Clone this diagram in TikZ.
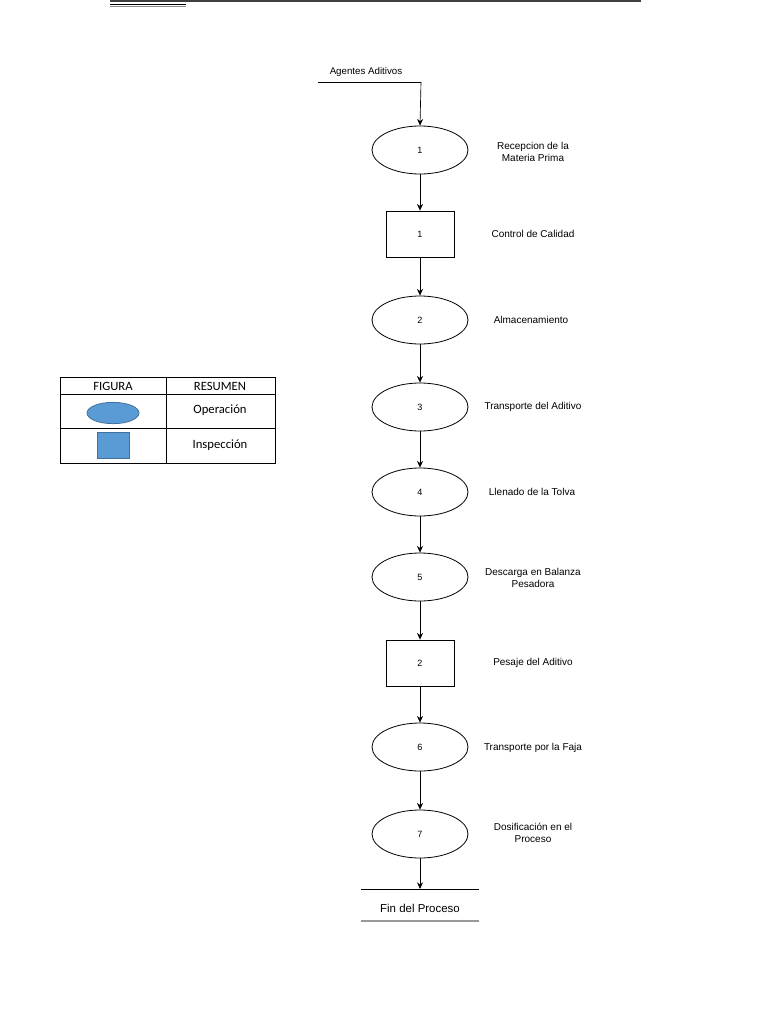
\documentclass[tikz,border=0pt]{standalone}
\usepackage{fontspec}
\setmainfont{Liberation Sans}
\newfontfamily\tabfont{Carlito}
\usetikzlibrary{shapes.geometric,arrows.meta}
\definecolor{legblue}{HTML}{5B9BD5}
\definecolor{legedge}{HTML}{41719C}
\begin{document}
\begin{tikzpicture}[x=0.75pt,y=-0.75pt,
  op/.style={ellipse,draw,line width=0.6pt,minimum width=72pt,minimum height=36pt,inner sep=0pt,font=\fontsize{6.8}{7}\selectfont},
  insp/.style={rectangle,draw,line width=0.6pt,minimum width=51pt,minimum height=34.5pt,inner sep=0pt,font=\fontsize{6.8}{7}\selectfont},
  lbl/.style={align=center,font=\fontsize{7.5}{9}\selectfont,inner sep=0pt},
  flow/.style={draw,line width=0.5pt,-{Stealth[length=5pt,width=4.5pt]}},
  tabline/.style={line width=0.75pt},
  tabtxt/.style={font=\tabfont\fontsize{9.5}{11}\selectfont,inner sep=0pt}]
\useasboundingbox (0,0) rectangle (768,1024);
\fill[white] (0,0) rectangle (768,1024);
% top artefact lines
\draw[line width=0.8pt,black!75] (110,1) -- (641,1);
\draw[line width=1pt] (110,4.5) -- (186,4.5);
\draw[line width=1pt,black!45] (110,6.8) -- (186,6.8);
% flow
\node[lbl,font=\fontsize{7.3}{9}\selectfont] (agt) at (366,72) {Agentes Aditivos};
\coordinate (s0) at (318,82);
\coordinate (s1) at (421,82);
\node[op] (o1) at (420,150) {1};
\node[insp] (i1) at (420,234) {1};
\node[op] (o2) at (420,320) {2};
\node[op] (o3) at (420,407) {3};
\node[op] (o4) at (420,492) {4};
\node[op] (o5) at (420,577) {5};
\node[insp] (i2) at (420,663) {2};
\node[op] (o6) at (420,747) {6};
\node[op] (o7) at (420,834) {7};
\coordinate (e0) at (361,889);
\coordinate (e1) at (479,889);
\coordinate (ec) at (420,889);
\coordinate (g0) at (361,921);
\coordinate (g1) at (479,921);
\node[lbl,font=\fontsize{8.6}{10}\selectfont] (fin) at (420,908) {Fin del Proceso};
\draw[line width=0.5pt] (s0) -- (s1);
\draw[flow] (s1) -- (o1.north);
\draw[flow] (o1) -- (i1);
\draw[flow] (i1) -- (o2);
\draw[flow] (o2) -- (o3);
\draw[flow] (o3) -- (o4);
\draw[flow] (o4) -- (o5);
\draw[flow] (o5) -- (i2);
\draw[flow] (i2) -- (o6);
\draw[flow] (o6) -- (o7);
\draw[flow] (o7) -- (ec);
\draw[line width=0.7pt] (e0) -- (e1);
\draw[line width=1pt,black!40] (g0) -- (g1);
% labels
\node[lbl] (l1) at (533,152) {Recepcion de la\\Materia Prima};
\node[lbl] (l2) at (533,234) {Control de Calidad};
\node[lbl] (l3) at (531,320) {Almacenamiento};
\node[lbl] (l4) at (533,407) {Transporte del Aditivo};
\node[lbl] (l5) at (532,492) {Llenado de la Tolva};
\node[lbl] (l6) at (533,578) {Descarga en Balanza\\Pesadora};
\node[lbl] (l7) at (533,663) {Pesaje del Aditivo};
\node[lbl] (l8) at (533,748) {Transporte por la Faja};
\node[lbl] (l9) at (533,833) {Dosificación en el\\Proceso};
% legend table
\draw[tabline] (60,377) rectangle (275,463);
\draw[tabline] (166,377) -- (166,463);
\draw[tabline] (60,394) -- (275,394);
\draw[tabline] (60,428) -- (275,428);
\node[tabtxt] (h1) at (113,386) {FIGURA};
\node[tabtxt] (h2) at (220,386) {RESUMEN};
\node[ellipse,fill=legblue,draw=legedge,line width=0.6pt,minimum width=39pt,minimum height=16pt,inner sep=0pt] (le) at (113,413) {};
\node[rectangle,fill=legblue,draw=legedge,line width=0.6pt,minimum width=24pt,minimum height=19.5pt,inner sep=0pt] (lr) at (113,445) {};
\node[tabtxt] (t1) at (220,410) {Operación};
\node[tabtxt] (t2) at (220,445) {Inspección};
\end{tikzpicture}
\end{document}
